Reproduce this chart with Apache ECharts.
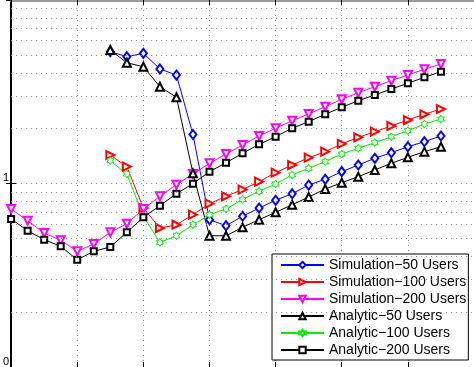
<!DOCTYPE html>
<html><head><meta charset="utf-8">
<script src="https://cdn.jsdelivr.net/npm/echarts@6/dist/echarts.min.js"></script>
<style>html,body{margin:0;padding:0;background:#fff}#c{width:474px;height:367px}</style>
</head><body><div id="c"></div>
<script>
// x positions (index of sample; major grid every 4)
const xIndex = [0,1,2,3,4,5,6,7,8,9,10,11,12,13,14,15,16,17,18,19,20,21,22,23,24,25,26];
const seriesNames = ['Simulation\u221250 Users','Simulation\u2212100 Users','Simulation\u2212200 Users','Analytic\u221250 Users','Analytic\u2212100 Users','Analytic\u2212200 Users'];
const sim50 = [null,null,null,null,null,null,52.3,49.1,51.2,42.1,39.0,18.5,6.35,5.89,6.63,7.35,8.10,8.80,9.81,10.54,11.60,12.61,13.72,14.72,15.87,16.90,18.15];
const sim100 = [null,null,null,null,null,null,14.30,12.35,7.35,5.72,5.96,6.76,7.76,8.52,9.27,10.23,11.45,12.61,13.82,14.91,16.42,17.85,19.15,20.58,22.18,23.84,25.47];
const sim200 = [7.26,6.27,5.37,4.90,4.27,4.68,5.42,6.04,7.26,8.52,9.85,11.27,12.89,14.48,16.21,18.15,20.0,21.99,23.92,26.21,28.77,31.24,33.70,36.33,39.02,41.91,44.80];
const ana50 = [null,null,null,null,null,null,53.4,45.5,43.3,33.7,29.5,11.37,5.19,5.19,5.77,6.35,6.97,7.66,8.44,9.33,10.10,10.89,11.85,12.89,13.89,14.91,15.87];
const ana100 = [null,null,null,null,null,null,13.31,11.27,6.63,4.78,5.19,5.96,6.76,7.26,8.18,9.07,9.94,11.13,12.10,13.15,14.48,15.55,16.69,17.99,19.40,21.10,22.46];
const ana200 = [6.41,5.53,4.94,4.55,3.84,4.27,4.51,5.42,6.54,7.57,8.80,9.98,11.60,12.98,14.60,16.35,17.99,20.0,21.72,23.84,26.02,28.27,30.36,32.73,35.16,37.91,40.68];
const minorGridValues = [2,3,4,5,6,7,8,9,20,30,40,50,60,70,80,90];

const pairs = arr => xIndex.map((x,i)=>[x, arr[i]]).filter(p=>p[1]!==null);
const hexagram = 'path://M50 0L64.43 25L93.3 25L78.87 50L93.3 75L64.43 75L50 100L35.57 75L6.7 75L21.13 50L6.7 25L35.57 25Z';
const FONT = 'Liberation Sans, Arial, sans-serif';
const dotted = {type:[1,4], color:'#8a8a8a', width:1};

function mk(name, data, color, symbol, size, rot, extra){
  return Object.assign({
    type:'line', name, data:pairs(data), color,
    symbol, symbolSize:size, symbolRotate:rot, symbolKeepAspect:true,
    showAllSymbol:true, connectNulls:false,
    lineStyle:{color, width:1},
    itemStyle:{color, borderWidth:1},
    emphasis:{disabled:true}
  }, extra||{});
}

const chart = echarts.init(document.getElementById('c'), null, {renderer:'canvas'});
chart.setOption({
  animation:false,
  backgroundColor:'#fff',
  textStyle:{fontFamily:FONT},
  grid:{left:8, right:-1, top:0, bottom:0, containLabel:false},
  xAxis:[
    {type:'value', min:0, max:28, interval:4, position:'bottom',
     axisLine:{show:true, lineStyle:{color:'#000', width:1}},
     axisTick:{show:true, inside:true, length:5, lineStyle:{color:'#000'}},
     axisLabel:{show:false},
     splitLine:{show:true, lineStyle:dotted}},
    {type:'value', min:0, max:28, interval:4, position:'top',
     axisLine:{show:true, lineStyle:{color:'#9a9a9a', width:4}},
     axisTick:{show:true, inside:true, length:5, lineStyle:{color:'#000'}},
     axisLabel:{show:false}, splitLine:{show:false}}
  ],
  yAxis:[
    {type:'log', logBase:10, min:1, max:100, position:'left',
     axisLine:{show:true, lineStyle:{color:'#000', width:2}},
     axisTick:{show:true, inside:true, length:5, lineStyle:{color:'#000'}},
     axisLabel:{show:true, color:'#000', fontSize:11, fontFamily:FONT, margin:2, verticalAlign:'bottom',
       showMaxLabel:false,
       formatter:v=>String(Math.round(Math.log10(v)))},
     splitLine:{show:true, lineStyle:dotted}},
    {type:'log', logBase:10, min:1, max:100, position:'right',
     axisLine:{show:false},
     axisTick:{show:true, inside:true, length:5, lineStyle:{color:'#000'}},
     axisLabel:{show:false}, splitLine:{show:false}}
  ],
  legend:{
    data:seriesNames,
    orient:'vertical', left:272, top:254,
    itemWidth:43, itemHeight:8, itemGap:3,
    padding:[4,2,3,8],
    backgroundColor:'#fff', borderColor:'#000', borderWidth:1,
    textStyle:{color:'#000', fontSize:14, fontFamily:FONT},
    selectedMode:false
  },
  series:[
    {type:'line', name:'minorgrid', data:[], silent:true,
     markLine:{silent:true, symbol:['none','none'], label:{show:false}, lineStyle:dotted,
       emphasis:{disabled:true}, animation:false,
       data:minorGridValues.map(v=>({yAxis:v}))}},
    mk(seriesNames[0], sim50, '#0000ff', 'emptyDiamond', [7,9], 0),
    mk(seriesNames[1], sim100, '#ff0000', 'emptyTriangle', 8, -90),
    mk(seriesNames[2], sim200, '#ff00ff', 'emptyTriangle', 8, 180),
    mk(seriesNames[3], ana50, '#000000', 'emptyTriangle', 8, 0),
    mk(seriesNames[4], ana100, '#00ee00', hexagram, 8, 0, {itemStyle:{color:'#fff', borderColor:'#00ee00', borderWidth:1}}),
    mk(seriesNames[5], ana200, '#000000', 'emptyRect', 6, 0)
  ]
});
</script></body></html>
